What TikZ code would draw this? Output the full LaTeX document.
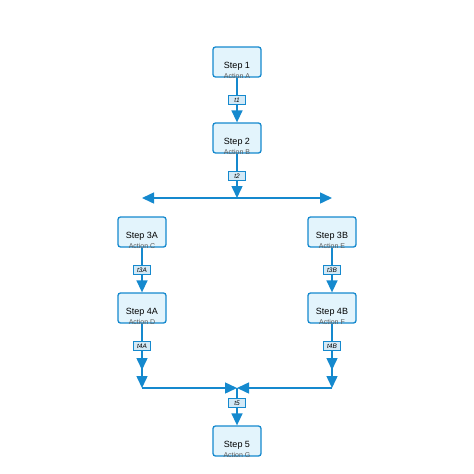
\documentclass[tikz,border=0pt]{standalone}
\usepackage{fontspec}
\setmainfont{Liberation Sans}
\usetikzlibrary{arrows.meta}
\definecolor{bl}{HTML}{1589CE}
\definecolor{fl}{HTML}{E3F4FC}
\begin{document}
\begin{tikzpicture}[x=1pt,y=-1pt,
 stp/.style={draw=bl,line width=1.3pt,fill=fl,rounded corners=2.5pt,minimum width=48pt,minimum height=30pt,inner sep=0pt},
 lab/.style={draw=bl,line width=1pt,fill=fl!60!bl!40,inner sep=0.6pt,minimum width=17pt,minimum height=9pt,font=\fontsize{6.5}{7}\selectfont\itshape},
 con/.style={draw=bl,line width=1.5pt,-{Triangle[length=12pt,width=11pt]}},
 act/.style={text=gray!70!black,font=\fontsize{7}{8}\selectfont}]
\useasboundingbox (0,0) rectangle (474,474);
\foreach \n/\x/\y/\s/\a in {s1/237/62/Step 1/Action A, s2/237/138/Step 2/Action B, s3a/142/232/Step 3A/Action C, s3b/332/232/Step 3B/Action E, s4a/142/308/Step 4A/Action D, s4b/332/308/Step 4B/Action F, s5/237/441/Step 5/Action G}{
 \node[stp] (\n) at (\x,\y) {};
 \node[font=\fontsize{9}{10}\selectfont] (\n t) at (\x,\y+4) {\s};
 \node[act] (\n a) at (\x,\y+14) {\a};
}
\coordinate (b2) at (237,198);
\coordinate (bl) at (142,198);
\coordinate (br) at (332,198);
\coordinate (j4a) at (142,388);
\coordinate (j4b) at (332,388);
\coordinate (j5) at (237,388);
\coordinate (m4a) at (142,370);
\coordinate (m4b) at (332,370);
\coordinate (n4a) at (142,365);
\coordinate (n4b) at (332,365);
\draw[con] (s1) -- (s2);
\draw[con] (s2) -- (b2);
\draw[con] (b2) -- (bl);
\draw[con] (b2) -- (br);
\draw[con] (s3a) -- (s4a);
\draw[con] (s3b) -- (s4b);
\draw[con] (s4a.south) -- (m4a);
\draw[con] (s4b.south) -- (m4b);
\draw[con] (n4a) -- (j4a);
\draw[con] (n4b) -- (j4b);
\draw[con] (j4a) -- (j5);
\draw[con] (j4b) -- (j5);
\draw[con] (j5) -- (s5);
\node[lab] (t1) at (237,100) {t1};
\node[lab] (t2) at (237,176) {t2};
\node[lab] (t3a) at (142,270) {t3A};
\node[lab] (t3b) at (332,270) {t3B};
\node[lab] (t4a) at (142,346) {t4A};
\node[lab] (t4b) at (332,346) {t4B};
\node[lab] (t5) at (237,403) {t5};
\end{tikzpicture}
\end{document}
